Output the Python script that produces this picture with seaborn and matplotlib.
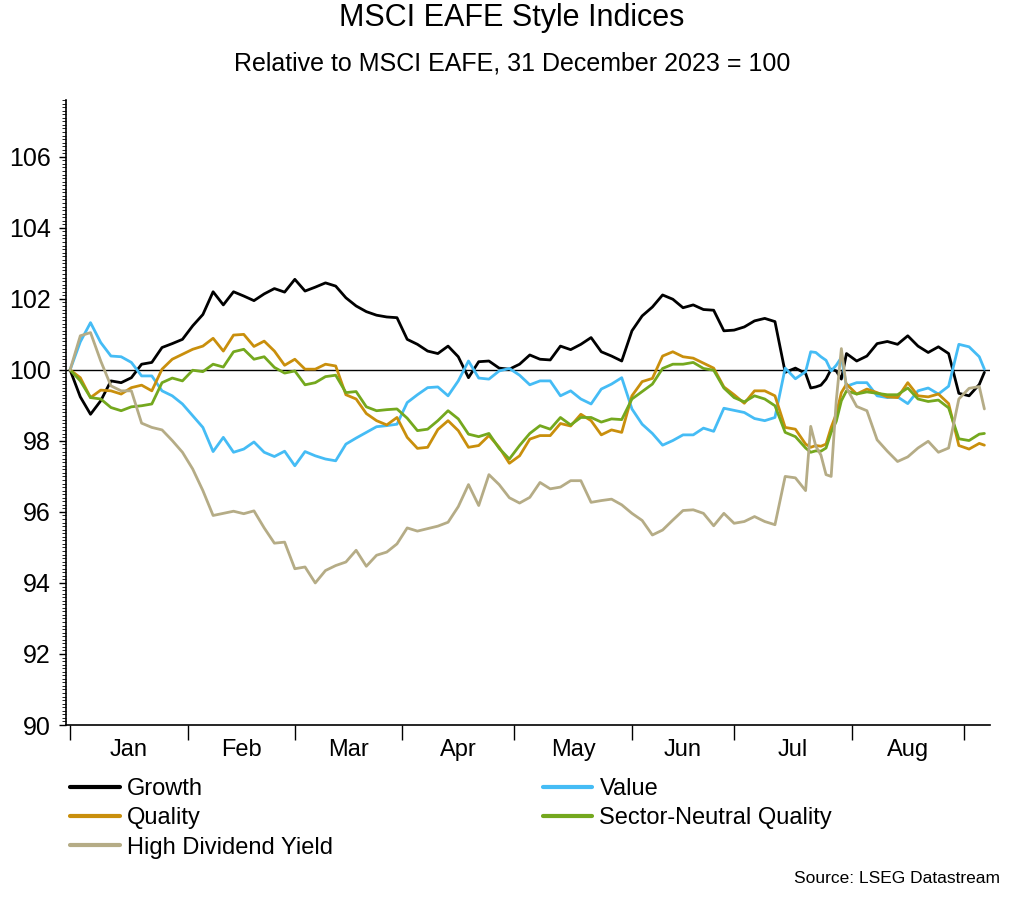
import pandas as pd
import seaborn as sns
import matplotlib.pyplot as plt
from matplotlib.lines import Line2D
from matplotlib.ticker import MultipleLocator

sns.set_style("white")
plt.rcParams["font.family"] = ["Liberation Sans", "DejaVu Sans"]
plt.rcParams["text.color"] = "black"
plt.rcParams["xtick.color"] = "black"
plt.rcParams["ytick.color"] = "black"

day_idx = list(range(0, 145, 2)) + [145, 146, 147, 148, 149, 150, 151] + list(range(152, 179, 2)) + [179]

growth = [100.00, 99.24, 98.75, 99.13, 99.69, 99.64, 99.78, 100.16, 100.21, 100.63,
          100.74, 100.86, 101.24, 101.56, 102.20, 101.83, 102.20, 102.08, 101.95, 102.14,
          102.29, 102.19, 102.55, 102.22, 102.33, 102.45, 102.36, 102.03, 101.80, 101.64,
          101.54, 101.49, 101.47, 100.86, 100.72, 100.53, 100.46, 100.67, 100.37, 99.78,
          100.23, 100.25, 100.05, 100.02, 100.16, 100.42, 100.30, 100.28, 100.67, 100.57,
          100.72, 100.91, 100.51, 100.39, 100.25, 101.10, 101.52, 101.77, 102.11, 101.99,
          101.75, 101.83, 101.70, 101.68, 101.10, 101.12, 101.21, 101.38, 101.45, 101.36,
          99.93, 100.05, 99.90,
          99.49, 99.52, 99.57, 99.74, 100.02, 99.97, 99.74,
          100.46, 100.25, 100.39, 100.74, 100.80, 100.72, 100.96, 100.67, 100.49, 100.65,
          100.46, 99.34, 99.27, 99.59,
          99.93]

value = [100.00, 100.79, 101.33, 100.77, 100.39, 100.37, 100.21, 99.83, 99.83, 99.41,
         99.27, 99.04, 98.71, 98.38, 97.70, 98.10, 97.68, 97.77, 97.97, 97.68,
         97.56, 97.71, 97.30, 97.70, 97.58, 97.49, 97.44, 97.91, 98.08, 98.24,
         98.40, 98.43, 98.47, 99.08, 99.30, 99.50, 99.52, 99.27, 99.69, 100.25,
         99.77, 99.74, 99.97, 100.04, 99.85, 99.58, 99.69, 99.69, 99.27, 99.41,
         99.18, 99.04, 99.46, 99.60, 99.78, 98.90, 98.47, 98.21, 97.88, 98.01,
         98.17, 98.17, 98.36, 98.27, 98.92, 98.86, 98.80, 98.63, 98.57, 98.66,
         100.05, 99.75, 99.95,
         100.51, 100.49, 100.37, 100.27, 99.97, 100.13, 100.35,
         99.54, 99.64, 99.64, 99.27, 99.22, 99.24, 99.05, 99.41, 99.49, 99.32,
         99.54, 100.72, 100.65, 100.37,
         100.02]

quality = [100.00, 99.78, 99.22, 99.43, 99.41, 99.32, 99.50, 99.57, 99.41, 100.02,
           100.30, 100.44, 100.58, 100.67, 100.89, 100.53, 100.98, 101.00, 100.66, 100.81,
           100.53, 100.13, 100.30, 100.02, 100.02, 100.16, 100.11, 99.30, 99.18, 98.77,
           98.57, 98.45, 98.66, 98.10, 97.79, 97.82, 98.32, 98.57, 98.29, 97.82,
           97.87, 98.15, 97.82, 97.37, 97.58, 98.05, 98.15, 98.15, 98.49, 98.42,
           98.75, 98.57, 98.17, 98.31, 98.24, 99.27, 99.67, 99.76, 100.39, 100.51,
           100.37, 100.33, 100.19, 100.05, 99.52, 99.30, 99.06, 99.41, 99.41, 99.27,
           98.38, 98.33, 97.91,
           97.82, 97.87, 97.85, 97.91, 98.38, 98.76, 99.36,
           99.60, 99.32, 99.46, 99.36, 99.24, 99.22, 99.64, 99.27, 99.24, 99.32,
           99.05, 97.87, 97.77, 97.93,
           97.88]

sn_quality = [100.00, 99.69, 99.22, 99.18, 98.94, 98.85, 98.96, 98.99, 99.04, 99.64,
              99.77, 99.69, 99.99, 99.95, 100.16, 100.08, 100.51, 100.58, 100.30, 100.37,
              100.07, 99.91, 99.97, 99.58, 99.64, 99.81, 99.85, 99.36, 99.39, 98.96,
              98.85, 98.88, 98.90, 98.64, 98.29, 98.33, 98.57, 98.85, 98.62, 98.19,
              98.12, 98.21, 97.79, 97.49, 97.87, 98.21, 98.43, 98.33, 98.66, 98.45,
              98.66, 98.66, 98.53, 98.62, 98.60, 99.18, 99.39, 99.60, 100.04, 100.16,
              100.16, 100.21, 100.04, 99.99, 99.49, 99.22, 99.10, 99.27, 99.18, 98.99,
              98.24, 98.12, 97.80,
              97.68, 97.72, 97.71, 97.80, 98.24, 98.55, 99.13,
              99.41, 99.32, 99.38, 99.34, 99.30, 99.30, 99.49, 99.18, 99.11, 99.15,
              98.93, 98.06, 98.01, 98.19,
              98.21]

high_div = [100.00, 100.96, 101.05, 100.25, 99.55, 99.41, 99.41, 98.50, 98.38, 98.31,
            98.01, 97.68, 97.21, 96.60, 95.90, 95.96, 96.02, 95.95, 96.03, 95.55,
            95.12, 95.15, 94.40, 94.45, 94.00, 94.35, 94.49, 94.59, 94.92, 94.47,
            94.78, 94.87, 95.10, 95.55, 95.46, 95.53, 95.60, 95.71, 96.15, 96.77,
            96.18, 97.05, 96.77, 96.40, 96.25, 96.41, 96.83, 96.65, 96.70, 96.88,
            96.88, 96.27, 96.32, 96.36, 96.20, 95.96, 95.76, 95.35, 95.49, 95.77,
            96.04, 96.06, 95.96, 95.61, 95.96, 95.68, 95.73, 95.87, 95.73, 95.64,
            97.00, 96.96, 96.60,
            98.41, 97.85, 97.60, 97.05, 97.00, 99.13, 100.60,
            99.50, 98.97, 98.85, 98.03, 97.71, 97.42, 97.55, 97.80, 97.99, 97.68,
            97.80, 99.18, 99.48, 99.53,
            98.90]

series_names = ["Growth", "Value", "Quality", "Sector-Neutral Quality", "High Dividend Yield"]
colors = ["#000000", "#45BCF5", "#C98F0C", "#74A81E", "#B5AC86"]
month_labels = ["Jan", "Feb", "Mar", "Apr", "May", "Jun", "Jul", "Aug"]

wide = pd.DataFrame({"day": day_idx, "Growth": growth, "Value": value, "Quality": quality,
                     "Sector-Neutral Quality": sn_quality, "High Dividend Yield": high_div})
df = wide.melt(id_vars="day", var_name="series", value_name="value")

# month boundaries on the business-day axis
days = pd.bdate_range("2024-01-01", "2024-09-06")
months = days.to_period("M")
starts = [i for i in range(len(days)) if i == 0 or months[i] != months[i - 1]]
mids = [(starts[i] + starts[i + 1]) / 2 for i in range(len(starts) - 1)]

fig = plt.figure(figsize=(10.24, 8.97), dpi=100)
ax = fig.add_axes([66 / 1024, 1 - 725 / 897, (990 - 66) / 1024, (725 - 100) / 897])

ax.axhline(100, color="black", lw=1.0, zorder=1)
sns.lineplot(data=df, x="day", y="value", hue="series", hue_order=series_names,
             palette=colors, linewidth=2.0, legend=False, ax=ax, zorder=2)

ax.set_xlim(-0.8, 180.1)
ax.set_ylim(90, 107.6)
ax.set_xlabel("")
ax.set_ylabel("")
sns.despine(ax=ax)
for s in ("left", "bottom"):
    ax.spines[s].set_linewidth(1.2)
    ax.spines[s].set_color("black")

ax.set_yticks(range(90, 107, 2))
ax.yaxis.set_minor_locator(MultipleLocator(0.1))
ax.tick_params(axis="y", which="major", length=5, width=1, labelsize=18, pad=6)
ax.tick_params(axis="y", which="minor", length=3, width=0.6)

ax.set_xticks(starts)
ax.set_xticklabels([])
ax.set_xticks(mids, minor=True)
ax.set_xticklabels(month_labels, minor=True)
ax.tick_params(axis="x", which="major", length=11, width=1, direction="out")
ax.tick_params(axis="x", which="minor", length=0, labelsize=17, pad=10)
ax.tick_params(bottom=True, left=True, which="both")

handles = [Line2D([], [], color=c, lw=3) for c in colors]
order = [0, 2, 4, 1, 3]
ax.legend([handles[i] for i in order], [series_names[i] for i in order], ncol=2,
          loc="upper left", bbox_to_anchor=(70 / 1024, 1 - 778 / 897),
          bbox_transform=fig.transFigure, frameon=False, fontsize=17,
          handlelength=2.1, handletextpad=0.3, labelspacing=0.31,
          columnspacing=8.9, borderpad=0, borderaxespad=0)

fig.text(0.5, 1 - 18 / 897, "MSCI EAFE Style Indices", ha="center", va="center", fontsize=22)
fig.text(0.5, 1 - 63 / 897, "Relative to MSCI EAFE, 31 December 2023 = 100",
         ha="center", va="center", fontsize=18)
fig.text(1000 / 1024, 1 - 878 / 897, "Source: LSEG Datastream", ha="right", va="center", fontsize=12.5)

fig.savefig("out.png", dpi=100)
